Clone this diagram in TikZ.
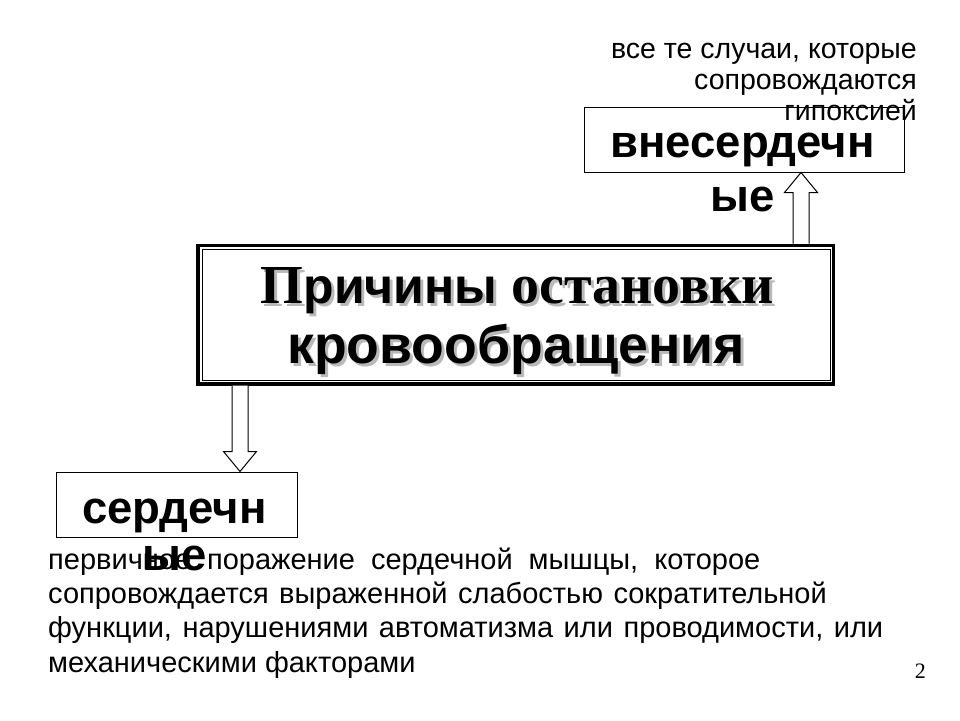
\documentclass[tikz,border=0pt]{standalone}
\usepackage{fontspec}
\setmainfont{Liberation Sans}
\newfontfamily\timesfont{Liberation Serif}
\usetikzlibrary{calc}

\begin{document}
\begin{tikzpicture}[x=1pt,y=-1pt]
            \tikzset{
                frame/.style={draw, line width=3.5, minimum width=635.5, minimum height=138.3, inner sep=0},
                kindbox/.style={draw, line width=1, inner sep=0},
                kindtext/.style={font=\bfseries\fontsize{45.5}{#1}\selectfont, align=center, inner sep=0, anchor=base},
                heading/.style={inner sep=0, anchor=base},
                note/.style={font=\fontsize{28.5}{31}\selectfont, inner sep=0},
                hollow/.style={draw, line width=1, fill=white}
            }
            \newcommand\lineone{\bfseries{\timesfont\fontsize{55}{55}\selectfont П}\fontsize{50}{50}\selectfont ричины {\timesfont\fontsize{56}{56}\selectfont остановки}}
            \newcommand\linetwo{\bfseries\fontsize{53.6}{54}\selectfont кровообращения}
            \useasboundingbox (0,0) rectangle (960,720);
            \draw node[frame] (main) at (515.75,314.6) {};
            \draw[line width=1.3] ($(main.north west)+(6,6)$) rectangle ($(main.south east)+(-5,-5)$);
            \draw node[kindbox, minimum width=320, minimum height=65] (upbox) at (744,139.5) {};
            \draw node[kindbox, minimum width=241, minimum height=65] (dnbox) at (176.5,504.5) {};
            \path (upbox.south) ++(57,0) coordinate (uptip);
            \path (dnbox.north) ++(63.5,0) coordinate (dntip);
            \coordinate (upfoot) at (main.north -| uptip);
            \coordinate (dnfoot) at (main.south -| dntip);
            \foreach \f/\t/\s in {%
            upfoot/uptip/1, dnfoot/dntip/-1%
            }{
                \draw[hollow] ($(\f)+(-8,0)$) -- ($(\t)+(-8,\s*20)$) -- ($(\t)+(-16.5,\s*20)$) -- (\t)
                    -- ($(\t)+(16.5,\s*20)$) -- ($(\t)+(8,\s*20)$) -- ($(\f)+(8,0)$);
            }
            % title with its shadow
            \node[heading, text=gray!55] (shadow1) at (520.5,306) {\lineone};
            \node[heading, text=gray!55] (shadow2) at (519,366) {\linetwo};
            \node[heading] (title1) at (517.5,303) {\lineone};
            \node[heading] (title2) at (516,363) {\linetwo};
            \node[kindtext=54.5] (uplabel) at (742.5,211.7) {внесердечн\\ые};
            \node[kindtext=47] (dnlabel) at (174.5,570) {сердечн\\ые};
            \node[note, align=right, anchor=base east] (upnote) at (917,120) {все те случаи, которые\\сопровождаются\\гипоксией};
            \node[note, font=\fontsize{29}{34.3}\selectfont, align=left, anchor=base west] (dnnote) at (48,672) {{\spaceskip=16pt\relax первичное поражение сердечной мышцы, которое}\\{\spaceskip=10.5pt\relax сопровождается выраженной слабостью сократительной}\\{\spaceskip=10.5pt\relax функции, нарушениями автоматизма или проводимости, или}\\механическими факторами};
            \node[inner sep=0, anchor=base east, font=\timesfont\fontsize{22}{22}\selectfont] (pagenum) at (926,678) {2};
\end{tikzpicture}
\end{document}
